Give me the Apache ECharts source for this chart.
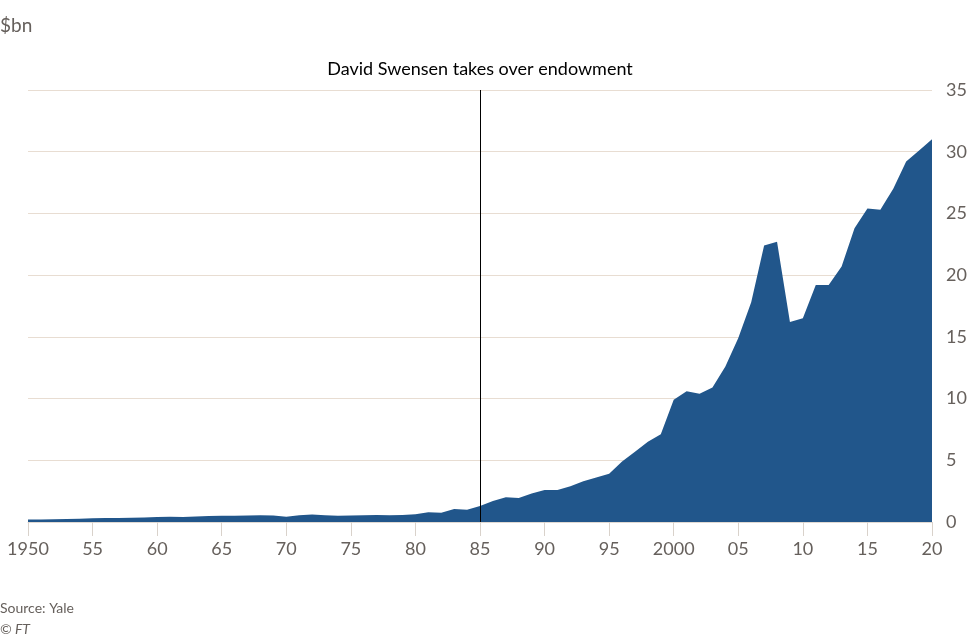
<!DOCTYPE html>
<html><head><meta charset="utf-8">
<script src="https://cdn.jsdelivr.net/npm/echarts@6/dist/echarts.min.js"></script>
<style>html,body{margin:0;padding:0;background:#fff}#c{width:980px;height:642px}</style>
</head><body><div id="c"></div>
<script>
const years = [];
for (let y = 1950; y <= 2020; y++) years.push(String(y));
const endowment = [
 0.2,0.2,0.22,0.24,0.27,0.3,0.32,0.33,0.34,0.37,
 0.4,0.42,0.41,0.45,0.48,0.5,0.51,0.53,0.55,0.52,
 0.42,0.55,0.6,0.55,0.5,0.52,0.55,0.57,0.55,0.57,
 0.62,0.78,0.75,1.05,1.0,1.3,1.7,2.0,1.95,2.3,
 2.6,2.6,2.9,3.3,3.6,3.9,4.9,5.7,6.5,7.1,
 9.9,10.6,10.4,10.9,12.6,14.9,17.8,22.4,22.7,16.2,
 16.5,19.2,19.2,20.7,23.8,25.4,25.3,27.0,29.2,30.1,31.0
];
const eventYear = '1985';
const eventLabel = 'David Swensen takes over endowment';

const font = 'Lato, "Noto Sans", sans-serif';
const chart = echarts.init(document.getElementById('c'));
chart.setOption({
  animation:false,
  textStyle:{fontFamily:font},
  graphic:[
    {type:'text',left:0,top:16,style:{text:'$bn',fill:'#66605c',font:'19px '+font}},
    {type:'text',left:0,top:601,style:{text:'Source: Yale',fill:'#66605c',font:'14px '+font}},
    {type:'text',left:0,top:622,style:{text:'© FT',fill:'#66605c',font:'italic 14px '+font}}
  ],
  grid:{left:28,right:48,top:90,bottom:120},
  xAxis:{type:'category',data:years,boundaryGap:false,
    axisLine:{show:true,lineStyle:{color:'#e0d9d2',width:1}},
    axisTick:{show:true,length:14,interval:(i)=>i%5===0,lineStyle:{color:'#d9d2cb'}},
    axisLabel:{interval:(i)=>i%5===0,color:'#66605c',fontSize:18,margin:18,
      formatter:(v)=>{const y=+v;return (y===1950)?'1950':(y===2000?'2000':String(y).slice(2));}},
    splitLine:{show:false}},
  yAxis:{type:'value',position:'right',min:0,max:35,interval:5,
    axisLine:{show:false},axisTick:{show:false},
    axisLabel:{color:'#66605c',fontSize:18,margin:14},
    splitLine:{lineStyle:{color:'#e8ddd2',width:1}}},
  series:[{type:'line',data:endowment,symbol:'none',
    lineStyle:{width:0},areaStyle:{color:'#21568b',opacity:1},
    markLine:{silent:true,symbol:'none',
      lineStyle:{color:'#000',width:1,type:'solid'},
      label:{show:true,position:'end',formatter:eventLabel,color:'#000',fontSize:18,distance:12,fontFamily:font},
      data:[{xAxis:eventYear}]}}]
});
</script></body></html>
